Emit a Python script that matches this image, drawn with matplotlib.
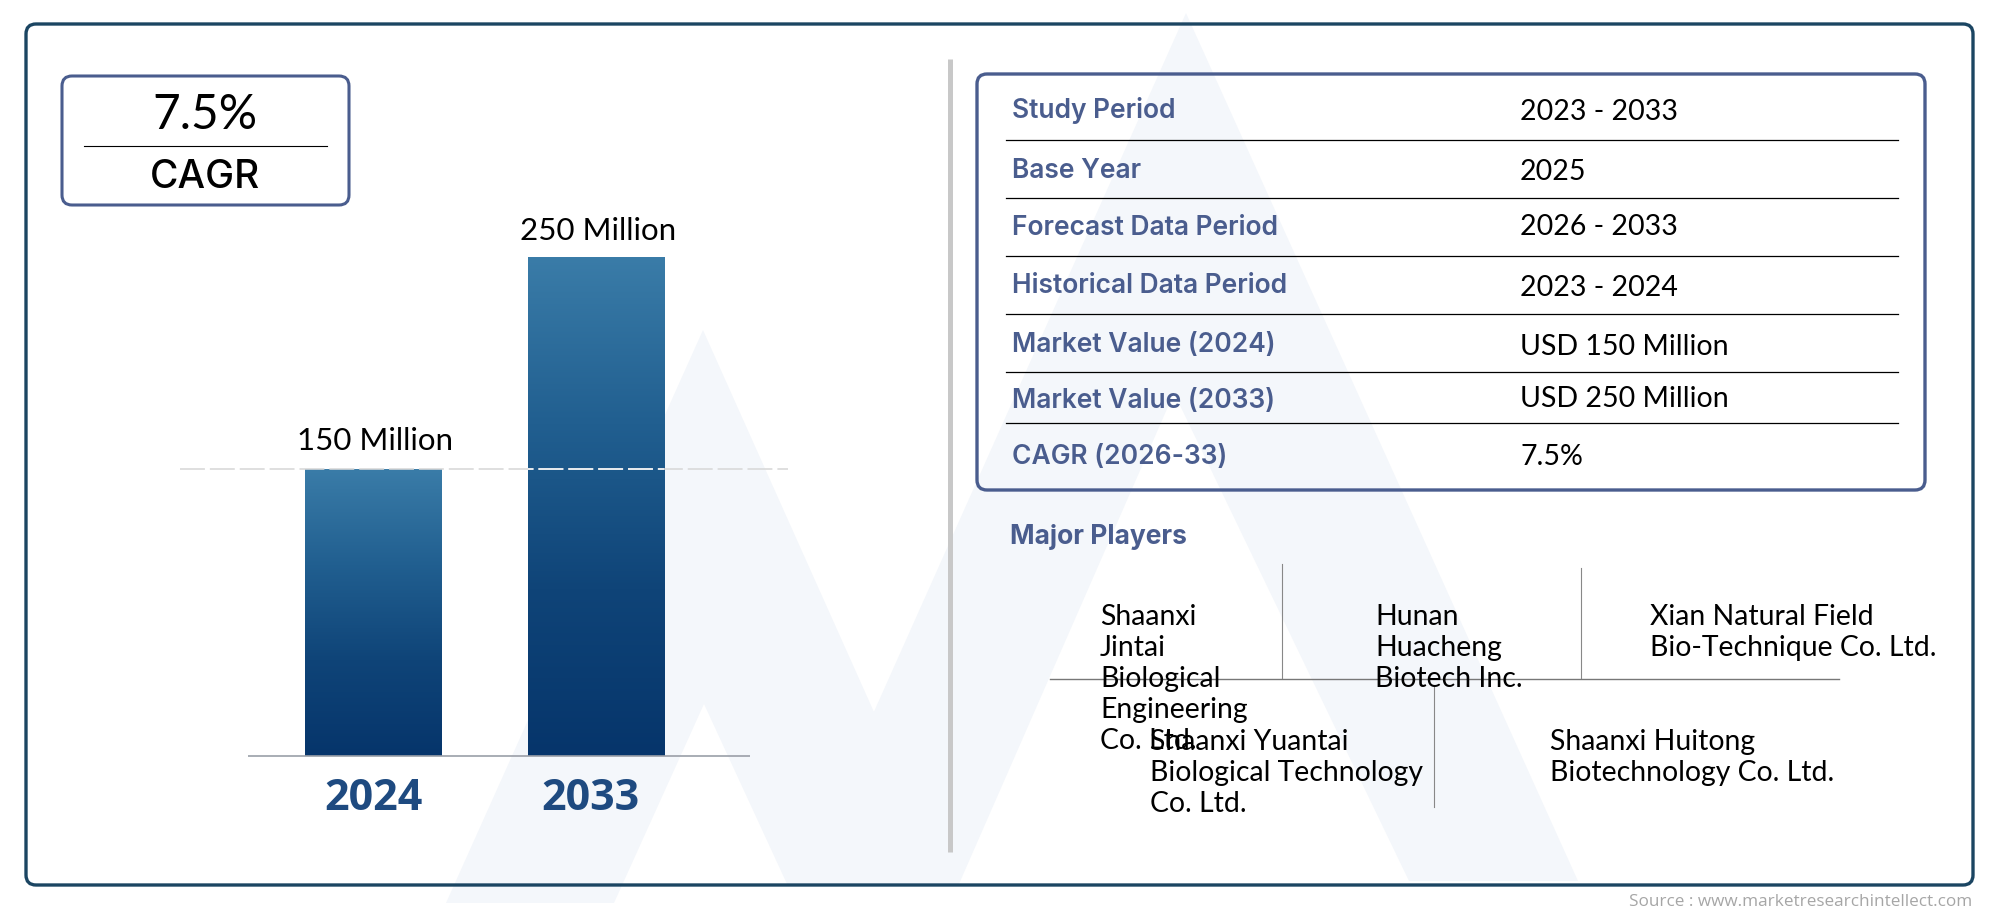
import numpy as np
import matplotlib
matplotlib.use('Agg')
import matplotlib.pyplot as plt
from matplotlib.colors import LinearSegmentedColormap
from matplotlib.patches import FancyBboxPatch, Polygon

W, H = 2000, 917

years = ['2024', '2033']
market_values = [150, 250]
value_labels = ['150 Million', '250 Million']
cagr_text = '7.5%'

table_labels = ['Study Period', 'Base Year', 'Forecast Data Period', 'Historical Data Period',
                'Market Value (2024)', 'Market Value (2033)', 'CAGR (2026-33)']
table_values = ['2023 - 2033', '2025', '2026 - 2033', '2023 - 2024',
                'USD 150 Million', 'USD 250 Million', '7.5%']
players = ['Shaanxi\nJintai\nBiological\nEngineering\nCo. Ltd.',
           'Hunan\nHuacheng\nBiotech Inc.',
           'Xian Natural Field\nBio-Technique Co. Ltd.',
           'Shaanxi Yuantai\nBiological Technology\nCo. Ltd.',
           'Shaanxi Huitong\nBiotechnology Co. Ltd.']

NAVY = '#1b4562'
SLATE = '#4a5d8e'
BODY = 'Lato'
HEAD = 'Inter'


def rounded(ax, x0, y0, x1, y1, color, lw, r=10):
    ax.add_patch(FancyBboxPatch((x0, y0), x1 - x0, y1 - y0, boxstyle='round,pad=0,rounding_size=%d' % r,
                                fc='none', ec=color, lw=lw, zorder=3))


fig = plt.figure(figsize=(W / 100, H / 100), dpi=100, facecolor='white')

# page layer, in pixels of the picture
bg = fig.add_axes([0, 0, 1, 1], zorder=0)
bg.set_xlim(0, W)
bg.set_ylim(H, 0)
bg.axis('off')

# watermark
WM = '#f4f7fb'
bg.add_patch(Polygon([(703, 330), (446, 903), (614, 903), (704, 704), (787, 884), (951, 884)], fc=WM, ec='none', zorder=1))
bg.add_patch(Polygon([(1186, 13), (1578, 881), (1409, 881), (1174, 393), (959, 884), (797, 884)], fc=WM, ec='none', zorder=1))

rounded(bg, 26, 24, 1973, 885, NAVY, 2.4)
bg.plot([950, 950], [59, 852], color='#c8c8c8', lw=3.6, zorder=2, solid_capstyle='butt')

# CAGR box
rounded(bg, 62, 76, 349, 205, SLATE, 2.2)
bg.plot([84, 327], [146, 146], color='black', lw=0.8, zorder=3)
bg.text(205, 115, cagr_text, family=BODY, fontsize=34.5, ha='center', va='center', zorder=4)
bg.text(205, 178, 'CAGR', family=HEAD, fontsize=28, weight='medium', ha='center', va='center', zorder=4)

# summary table
rounded(bg, 977, 74, 1925, 490, SLATE, 2.4)
row_lines = [140, 198, 256, 314, 372, 423]
label_y = [110, 171, 228, 286, 345, 401, 457]
value_y = [112, 172, 227, 288, 347, 399, 457]
for y in row_lines:
    bg.plot([1006, 1898], [y, y], color='black', lw=0.9, zorder=3)
for lab, val, ly, vy in zip(table_labels, table_values, label_y, value_y):
    bg.text(1012, ly, lab, family=HEAD, fontsize=19, weight='semibold', color=SLATE, va='center', zorder=4)
    bg.text(1520, vy, val, family=BODY, fontsize=20.5, color='black', va='center', zorder=4)

# major players
bg.text(1010, 537, 'Major Players', family=HEAD, fontsize=19, weight='bold', color=SLATE, va='center', zorder=4)
bg.plot([1050, 1839], [679, 679], color='#777777', lw=1, zorder=3)
for x, y0, y1 in [(1282, 564, 678), (1581, 568, 678), (1434, 687, 807)]:
    bg.plot([x, x], [y0, y1], color='#888888', lw=0.8, zorder=3)
player_xy = [(1100, 604), (1375, 604), (1650, 604), (1150, 729), (1550, 729)]
for name, (x, y) in zip(players, player_xy):
    bg.text(x, y, name, family=BODY, fontsize=20.4, color='black', va='top', linespacing=1.24, zorder=4)

bg.text(1972, 902, 'Source : www.marketresearchintellect.com', family='Open Sans', fontsize=12.3,
        color='#a6a6a6', ha='right', va='center', zorder=4)

# bar chart, y scale picked so 150 and 250 land on the drawn bar tops
ax = fig.add_axes([180 / W, 1 - 756 / H, (788 - 180) / W, (756 - 200) / H], zorder=1)
ax.patch.set_alpha(0)
x = np.arange(len(years))
bars = ax.bar(x, market_values, width=0.61, bottom=0, color='none')
cmap = LinearSegmentedColormap.from_list('bar', ['#3a7ca8', '#215f90', '#0f4478', '#06356b'])
grad = np.linspace(0, 1, 256).reshape(-1, 1)
for b, v in zip(bars, market_values):
    im = ax.imshow(grad, cmap=cmap, aspect='auto', zorder=2,
                   extent=(b.get_x(), b.get_x() + b.get_width(), 15, v))
    im.set_clip_path(b)
ax.set_xlim(-0.865, 1.861)
ax.set_ylim(15, 276.9)
for s in ax.spines.values():
    s.set_visible(False)
ax.set_xticks([])
ax.set_yticks([])
ax.hlines(15, -0.56, 1.69, color='#9a9fa8', lw=1.2, zorder=3, clip_on=False)
ax.axhline(150, color='#d8d8d8', lw=1.15, dashes=(15.6, 3.1), zorder=4)
ax.axhline(150, color='#f2f4f6', lw=1.15, dashes=(15.6, 3.1), zorder=5).set_clip_path(bars[1])
label_dx = [2, 2]
label_dy = [28, 26]
tick_dx = [1, -6]
for i, v in enumerate(market_values):
    ax.annotate(value_labels[i], (x[i], v), xytext=(label_dx[i], label_dy[i]), textcoords='offset pixels',
                family=BODY, fontsize=22.5, ha='center', va='center', annotation_clip=False)
    ax.annotate(years[i], (x[i], 15), xytext=(tick_dx[i], -43), textcoords='offset pixels', family='Open Sans',
                fontsize=31, weight='bold', color='#1e4a80', ha='center', va='center', annotation_clip=False)

fig.savefig('out.png', dpi=100)
